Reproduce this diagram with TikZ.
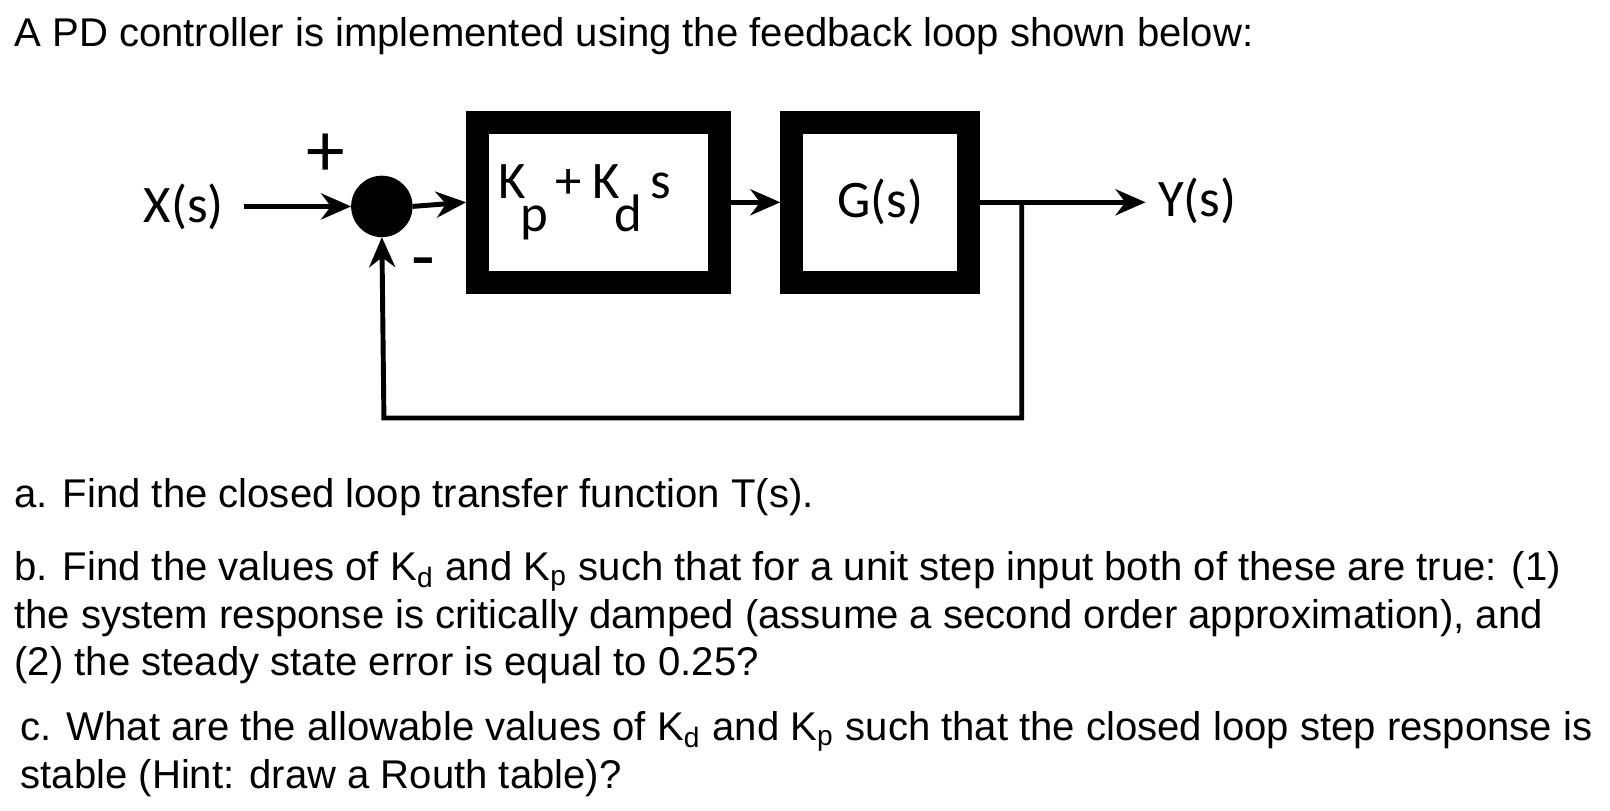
\documentclass[tikz,border=0pt]{standalone}
\usepackage{fontspec}
\setmainfont{Liberation Sans}
\newfontfamily\diagfont{Carlito}
\usetikzlibrary{arrows.meta, positioning}

\tikzset{
  blk/.style={draw, line width=6.5pt, minimum width=2.42cm, minimum height=1.6cm, font=\diagfont\fontsize{15}{18}\selectfont},
  sig/.style={line width=1.4pt, -{Stealth[length=3mm, width=2.6mm]}},
  lbl/.style={font=\diagfont\fontsize{15}{18}\selectfont},
  qtext/.style={anchor=west, font=\fontsize{11.4}{13.6}\selectfont}
}

\begin{document}
\begin{tikzpicture}[x=0.01032cm, y=-0.01032cm]
    \useasboundingbox (0,0) rectangle (1560,785);

    \node[qtext] (title) at (2,35) {A PD controller is implemented using the feedback loop shown below:};

    \node[lbl] (x) at (178,200) {X(s)};
    \node[draw, circle, fill=black, minimum size=0.6cm, inner sep=0pt] (sum) at (370,200) {};
    \node[blk] (pd) at (580,196) {};
    \node[lbl, anchor=west, inner sep=0pt] (pdtext) at (482,196) {K\kern-0.1em\raisebox{-1.3ex}{p}\kern0.15em+\kern0.2emK\kern-0.1em\raisebox{-1.3ex}{d}\kern0.15em s};
    \node[blk, minimum width=1.77cm] (plant) at (853,196) {G(s)};
    \node[lbl] (y) at (1160,195) {Y(s)};
    \node[lbl, font=\diagfont\fontsize{22}{22}\selectfont] (plus) at (316,150) {+};
    \node[lbl, font=\diagfont\fontsize{22}{22}\selectfont] (minus) at (410,262) {-};

    \coordinate (tap) at (990,196);
    \coordinate (out) at (1110,196);
    \coordinate (fb) at (372,405);

    \draw[sig] (x.east) ++(8,0) -- (sum.west);
    \draw[sig] (sum.east) -- (pd.west);
    \draw[sig] (pd.east) -- (plant.west);
    \draw[sig] (plant.east) -- (out);
    \draw[sig] (tap) |- (fb) -- (sum.south);

    % questions
    \node[qtext] (qa) at (2,482) {a. Find the closed loop transfer function T(s).};
    \node[qtext, align=left, anchor=north west] (qb) at (2,522) {b. Find the values of K\textsubscript{d} and K\textsubscript{p} such that for a unit step input both of these are true: (1)\\the system response is critically damped (assume a second order approximation), and\\(2) the steady state error is equal to 0.25?};
    \node[qtext, align=left, anchor=north west] (qc) at (8,677) {c. What are the allowable values of K\textsubscript{d} and K\textsubscript{p} such that the closed loop step response is\\stable (Hint: draw a Routh table)?};
\end{tikzpicture}
\end{document}
